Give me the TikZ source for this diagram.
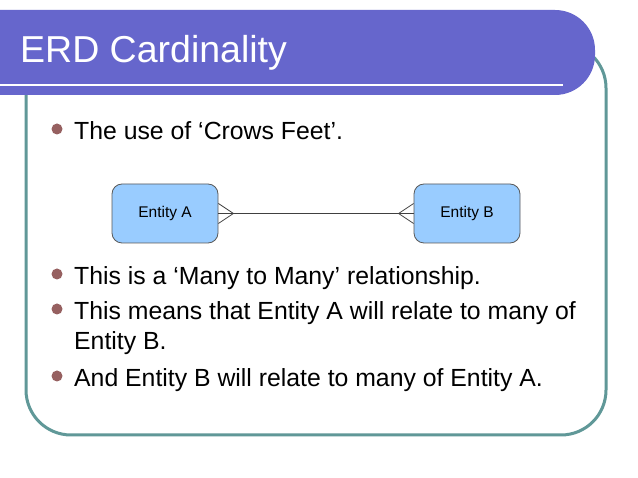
\documentclass[tikz,border=0pt]{standalone}
\usepackage{fontspec}
\setmainfont{Liberation Sans}
\usetikzlibrary{calc,positioning}
\definecolor{titlebar}{RGB}{102,102,204}
\definecolor{frameteal}{RGB}{96,152,152}
\definecolor{bulletred}{RGB}{150,96,96}
\definecolor{entityblue}{RGB}{153,204,255}
\tikzstyle{entity}=[rectangle,draw=black!65,fill=entityblue,line width=0.8pt,minimum width=106pt,minimum height=59pt,rounded corners=10pt,font=\fontsize{15.5}{18}\selectfont]
\tikzstyle{bullet}=[circle,fill=bulletred,inner sep=0pt,minimum size=11pt]
\tikzstyle{bodytext}=[anchor=base west,inner sep=0pt,font=\fontsize{24.8}{30}\selectfont]
\tikzstyle{crowline}=[draw=black!75,line width=0.8pt]

\begin{document}
\begin{tikzpicture}[x=1pt,y=-1pt]
\def \tx {74};
\def \foot {15};
\def \spread {10};

\useasboundingbox (0,0) rectangle (638,478);
\fill[white] (0,0) rectangle (638,478);

% frame and title bar
\draw[frameteal,line width=3pt,rounded corners=45pt] (26,43) rectangle (606,435);
\fill[titlebar,rounded corners=40pt] (-60,10) rectangle (595,95);
\draw[white,line width=2.5pt] (0,85) -- (563,85);
\node[anchor=base west,inner sep=0pt,text=white,font=\fontsize{37.5}{44}\selectfont] (title) at (20,63) {ERD Cardinality};

% bullet lines
\node[bodytext] (l1) at (\tx,140) {The use of ‘Crows Feet’.};
\node[bodytext] (l2) at (\tx,285) {This is a ‘Many to Many’ relationship.};
\node[bodytext] (l3) at (\tx,320) {This means that Entity A will relate to many of};
\node[bodytext] (l4) at (\tx,350) {Entity B.};
\node[bodytext] (l5) at (\tx,387) {And Entity B will relate to many of Entity A.};

\foreach \l in {l1,l2,l3,l5} {
	\node[bullet] (b\l) at ($(\l.base west)+(-17,-11)$) {};
};

% entities
\node[entity] (A) at (165,213.5) {Entity A};
\node[entity] (B) at (467,213.5) {Entity B};

\draw[crowline] (A.east) -- (B.west);

\coordinate (Afoot) at ($(A.east)+(\foot,0)$);
\coordinate (Bfoot) at ($(B.west)+(-\foot,0)$);
\draw[crowline] ($(A.east)+(0,-\spread)$) -- (Afoot) -- ($(A.east)+(0,\spread)$);
\draw[crowline] ($(B.west)+(0,-\spread)$) -- (Bfoot) -- ($(B.west)+(0,\spread)$);

\end{tikzpicture}
\end{document}
